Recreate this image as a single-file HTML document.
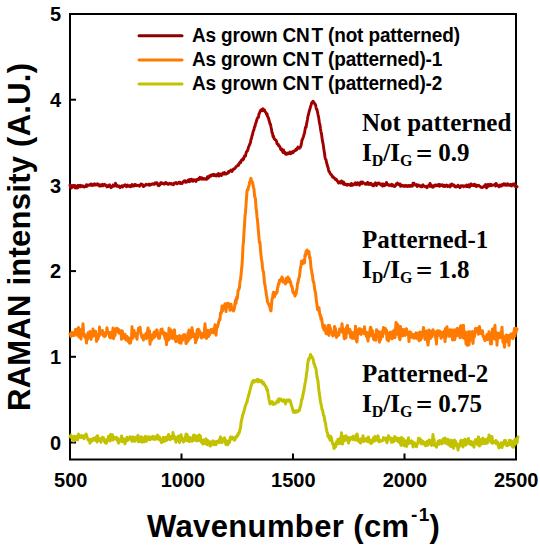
<!DOCTYPE html>
<html><head><meta charset="utf-8"><style>
html,body{margin:0;padding:0;background:#fff;width:540px;height:550px;overflow:hidden}
svg{display:block}
</style></head><body>
<svg width="540" height="550" viewBox="0 0 540 550">
<rect width="540" height="550" fill="#fff"/>
<g stroke="#000" stroke-width="2" fill="none">
<rect x="70" y="14" width="446" height="445.5" stroke-linejoin="miter"/>
<line x1="70" y1="442.5" x2="76" y2="442.5"/><line x1="70" y1="356.8" x2="76" y2="356.8"/><line x1="70" y1="271.1" x2="76" y2="271.1"/><line x1="70" y1="185.4" x2="76" y2="185.4"/><line x1="70" y1="99.7" x2="76" y2="99.7"/><line x1="181.5" y1="459" x2="181.5" y2="453.5"/><line x1="293.0" y1="459" x2="293.0" y2="453.5"/><line x1="404.5" y1="459" x2="404.5" y2="453.5"/>
</g>
<g fill="none" stroke-linejoin="round" stroke-linecap="round">
<path d="M70.0 184.9 L70.5 187.2 L71.0 188.1 L71.5 187.9 L72.0 186.7 L72.5 186.7 L73.0 186.8 L73.5 185.4 L74.0 186.0 L74.5 186.2 L75.0 187.7 L75.5 186.5 L76.0 188.0 L76.5 187.1 L77.0 186.0 L77.5 187.9 L78.0 185.5 L78.5 186.2 L79.0 186.7 L79.5 185.5 L80.0 185.3 L80.5 186.8 L81.0 186.4 L81.5 185.6 L82.0 185.7 L82.5 186.0 L83.0 186.7 L83.5 186.0 L84.0 186.6 L84.5 187.0 L85.0 186.5 L85.5 186.6 L86.0 186.5 L86.5 184.7 L87.0 186.3 L87.5 185.7 L88.0 185.4 L88.5 185.1 L89.0 185.0 L89.5 184.9 L90.0 185.2 L90.5 184.1 L91.0 184.0 L91.5 184.4 L92.0 185.4 L92.5 184.7 L93.0 184.7 L93.5 185.3 L94.0 183.9 L94.5 184.7 L95.0 184.0 L95.5 185.0 L96.0 185.0 L96.5 184.7 L97.0 184.0 L97.5 183.7 L98.0 184.2 L98.5 184.5 L99.0 185.9 L99.5 186.0 L100.0 184.8 L100.5 185.9 L101.0 185.3 L101.5 185.7 L102.0 184.9 L102.5 184.3 L103.0 185.8 L103.5 185.6 L104.0 184.9 L104.5 184.3 L105.0 184.9 L105.5 184.8 L106.0 185.5 L106.5 186.3 L107.0 186.9 L107.5 185.7 L108.0 186.6 L108.5 186.4 L109.0 185.4 L109.5 184.8 L110.0 186.5 L110.5 186.5 L111.0 187.7 L111.5 186.9 L112.0 186.3 L112.5 186.7 L113.0 184.9 L113.5 185.4 L114.0 185.0 L114.5 186.1 L115.0 185.4 L115.5 183.2 L116.0 185.8 L116.5 184.8 L117.0 186.2 L117.5 185.6 L118.0 186.3 L118.5 186.6 L119.0 186.3 L119.5 186.0 L120.0 187.7 L120.5 187.0 L121.0 186.7 L121.5 186.8 L122.0 185.8 L122.5 187.1 L123.0 186.0 L123.5 186.0 L124.0 185.8 L124.5 185.0 L125.0 184.8 L125.5 185.8 L126.0 186.0 L126.5 186.7 L127.0 186.2 L127.5 185.1 L128.0 185.8 L128.5 186.1 L129.0 186.3 L129.5 186.2 L130.0 185.5 L130.5 186.8 L131.0 185.6 L131.5 186.1 L132.0 184.6 L132.5 185.9 L133.0 184.9 L133.5 185.9 L134.0 186.1 L134.5 185.8 L135.0 184.4 L135.5 184.6 L136.0 184.6 L136.5 185.7 L137.0 185.6 L137.5 185.4 L138.0 185.3 L138.5 185.4 L139.0 185.3 L139.5 186.2 L140.0 185.3 L140.5 185.3 L141.0 183.9 L141.5 184.2 L142.0 184.6 L142.5 184.5 L143.0 185.6 L143.5 186.6 L144.0 186.2 L144.5 185.8 L145.0 185.4 L145.5 185.2 L146.0 184.2 L146.5 184.8 L147.0 184.6 L147.5 184.7 L148.0 184.9 L148.5 184.3 L149.0 184.3 L149.5 185.3 L150.0 184.3 L150.5 184.9 L151.0 184.6 L151.5 184.2 L152.0 184.0 L152.5 183.7 L153.0 184.2 L153.5 183.7 L154.0 183.7 L154.5 184.2 L155.0 183.0 L155.5 183.5 L156.0 182.8 L156.5 183.4 L157.0 182.7 L157.5 183.6 L158.0 185.5 L158.5 185.0 L159.0 185.6 L159.5 184.9 L160.0 184.9 L160.5 183.1 L161.0 182.6 L161.5 183.4 L162.0 183.6 L162.5 183.1 L163.0 183.5 L163.5 183.7 L164.0 184.1 L164.5 183.3 L165.0 182.9 L165.5 183.6 L166.0 182.5 L166.5 183.2 L167.0 183.7 L167.5 183.5 L168.0 184.4 L168.5 183.7 L169.0 183.7 L169.5 183.2 L170.0 183.3 L170.5 184.1 L171.0 184.1 L171.5 183.6 L172.0 184.2 L172.5 184.1 L173.0 184.1 L173.5 184.6 L174.0 183.1 L174.5 183.2 L175.0 182.9 L175.5 182.8 L176.0 182.5 L176.5 183.8 L177.0 183.8 L177.5 183.4 L178.0 183.0 L178.5 182.9 L179.0 182.2 L179.5 183.2 L180.0 182.3 L180.5 183.5 L181.0 182.8 L181.5 183.2 L182.0 183.6 L182.5 182.6 L183.0 182.0 L183.5 182.0 L184.0 180.9 L184.5 180.8 L185.0 180.7 L185.5 182.4 L186.0 182.3 L186.5 182.2 L187.0 181.2 L187.5 181.8 L188.0 180.2 L188.5 181.0 L189.0 179.8 L189.5 181.7 L190.0 179.5 L190.5 181.1 L191.0 180.8 L191.5 179.2 L192.0 180.0 L192.5 181.2 L193.0 181.3 L193.5 179.8 L194.0 180.6 L194.5 180.0 L195.0 179.8 L195.5 180.0 L196.0 181.4 L196.5 180.1 L197.0 179.6 L197.5 179.3 L198.0 179.8 L198.5 179.5 L199.0 178.2 L199.5 179.2 L200.0 177.3 L200.5 177.9 L201.0 178.4 L201.5 179.1 L202.0 177.8 L202.5 178.4 L203.0 179.1 L203.5 178.8 L204.0 179.2 L204.5 179.1 L205.0 178.6 L205.5 179.0 L206.0 179.3 L206.5 178.4 L207.0 179.1 L207.5 176.6 L208.0 176.9 L208.5 177.9 L209.0 176.8 L209.5 175.8 L210.0 176.1 L210.5 176.3 L211.0 175.2 L211.5 175.6 L212.0 174.7 L212.5 174.6 L213.0 174.6 L213.5 175.5 L214.0 174.3 L214.5 175.0 L215.0 175.8 L215.5 174.9 L216.0 175.0 L216.5 175.9 L217.0 175.2 L217.5 174.4 L218.0 174.0 L218.5 173.5 L219.0 176.1 L219.5 174.1 L220.0 174.7 L220.5 174.0 L221.0 174.6 L221.5 175.5 L222.0 174.3 L222.5 174.1 L223.0 172.9 L223.5 174.0 L224.0 172.7 L224.5 172.4 L225.0 174.1 L225.5 173.4 L226.0 174.0 L226.5 173.6 L227.0 173.4 L227.5 173.4 L228.0 172.7 L228.5 171.6 L229.0 172.3 L229.5 171.2 L230.0 171.1 L230.5 170.8 L231.0 170.0 L231.5 170.3 L232.0 171.6 L232.5 170.0 L233.0 170.0 L233.5 169.0 L234.0 169.3 L234.5 168.8 L235.0 168.2 L235.5 167.7 L236.0 166.7 L236.5 166.3 L237.0 166.2 L237.5 165.7 L238.0 164.7 L238.5 165.4 L239.0 163.9 L239.5 163.2 L240.0 162.0 L240.5 162.7 L241.0 161.1 L241.5 160.1 L242.0 159.9 L242.5 160.2 L243.0 158.5 L243.5 159.2 L244.0 157.6 L244.5 156.0 L245.0 155.9 L245.5 156.0 L246.0 153.2 L246.5 151.7 L247.0 151.4 L247.5 150.7 L248.0 149.3 L248.5 147.1 L249.0 146.1 L249.5 144.7 L250.0 143.8 L250.5 142.5 L251.0 139.3 L251.5 138.5 L252.0 135.7 L252.5 134.6 L253.0 132.1 L253.5 130.5 L254.0 129.6 L254.5 127.0 L255.0 126.4 L255.5 124.0 L256.0 122.8 L256.5 121.0 L257.0 119.2 L257.5 118.1 L258.0 117.3 L258.5 117.3 L259.0 113.6 L259.5 113.2 L260.0 111.6 L260.5 110.4 L261.0 110.6 L261.5 109.6 L262.0 110.0 L262.5 110.7 L263.0 108.8 L263.5 110.2 L264.0 110.4 L264.5 110.1 L265.0 111.5 L265.5 112.2 L266.0 112.7 L266.5 114.3 L267.0 113.8 L267.5 116.2 L268.0 117.1 L268.5 118.2 L269.0 120.3 L269.5 121.7 L270.0 123.9 L270.5 124.4 L271.0 127.1 L271.5 129.3 L272.0 132.7 L272.5 133.3 L273.0 136.6 L273.5 136.1 L274.0 138.4 L274.5 138.9 L275.0 139.8 L275.5 140.1 L276.0 140.2 L276.5 141.3 L277.0 143.8 L277.5 143.9 L278.0 143.9 L278.5 145.7 L279.0 145.4 L279.5 146.4 L280.0 147.0 L280.5 148.9 L281.0 149.8 L281.5 148.8 L282.0 150.3 L282.5 151.3 L283.0 152.5 L283.5 150.0 L284.0 151.7 L284.5 152.9 L285.0 152.4 L285.5 154.0 L286.0 154.4 L286.5 154.4 L287.0 153.2 L287.5 153.7 L288.0 153.0 L288.5 153.6 L289.0 153.2 L289.5 152.8 L290.0 151.9 L290.5 153.8 L291.0 153.5 L291.5 153.0 L292.0 151.8 L292.5 151.7 L293.0 152.7 L293.5 152.0 L294.0 150.9 L294.5 151.1 L295.0 150.8 L295.5 150.2 L296.0 149.2 L296.5 150.1 L297.0 149.2 L297.5 148.3 L298.0 147.0 L298.5 147.4 L299.0 147.6 L299.5 148.1 L300.0 147.2 L300.5 147.1 L301.0 145.4 L301.5 143.1 L302.0 140.0 L302.5 139.4 L303.0 137.7 L303.5 136.4 L304.0 134.6 L304.5 133.0 L305.0 129.9 L305.5 127.3 L306.0 127.6 L306.5 124.3 L307.0 121.9 L307.5 119.3 L308.0 115.9 L308.5 114.6 L309.0 112.0 L309.5 110.6 L310.0 108.6 L310.5 106.8 L311.0 105.5 L311.5 103.4 L312.0 102.3 L312.5 102.0 L313.0 101.2 L313.5 101.9 L314.0 102.3 L314.5 103.6 L315.0 104.2 L315.5 104.5 L316.0 107.2 L316.5 109.5 L317.0 109.4 L317.5 112.0 L318.0 114.6 L318.5 116.6 L319.0 119.9 L319.5 123.0 L320.0 125.0 L320.5 128.8 L321.0 131.8 L321.5 133.9 L322.0 137.8 L322.5 141.2 L323.0 143.3 L323.5 146.8 L324.0 150.2 L324.5 153.3 L325.0 157.3 L325.5 159.0 L326.0 159.8 L326.5 162.4 L327.0 164.2 L327.5 166.2 L328.0 167.3 L328.5 169.6 L329.0 171.6 L329.5 171.8 L330.0 173.1 L330.5 174.1 L331.0 174.1 L331.5 175.3 L332.0 175.5 L332.5 176.9 L333.0 176.7 L333.5 177.1 L334.0 178.0 L334.5 178.3 L335.0 178.9 L335.5 179.5 L336.0 179.0 L336.5 179.7 L337.0 180.7 L337.5 181.3 L338.0 181.5 L338.5 183.1 L339.0 182.3 L339.5 181.9 L340.0 182.7 L340.5 183.0 L341.0 182.3 L341.5 180.9 L342.0 181.8 L342.5 182.2 L343.0 183.7 L343.5 181.9 L344.0 184.4 L344.5 183.7 L345.0 184.6 L345.5 184.0 L346.0 184.4 L346.5 185.0 L347.0 184.5 L347.5 185.1 L348.0 184.3 L348.5 184.4 L349.0 184.7 L349.5 184.6 L350.0 184.8 L350.5 185.5 L351.0 183.7 L351.5 183.4 L352.0 184.3 L352.5 185.3 L353.0 185.0 L353.5 184.9 L354.0 184.6 L354.5 183.5 L355.0 184.1 L355.5 182.8 L356.0 184.4 L356.5 184.8 L357.0 183.3 L357.5 182.7 L358.0 182.8 L358.5 183.8 L359.0 184.5 L359.5 185.1 L360.0 184.2 L360.5 182.4 L361.0 182.0 L361.5 183.3 L362.0 183.7 L362.5 182.0 L363.0 182.6 L363.5 182.8 L364.0 183.2 L364.5 183.3 L365.0 183.9 L365.5 184.2 L366.0 183.5 L366.5 183.6 L367.0 184.1 L367.5 182.5 L368.0 182.6 L368.5 183.7 L369.0 184.6 L369.5 183.6 L370.0 184.1 L370.5 183.3 L371.0 184.0 L371.5 183.7 L372.0 185.1 L372.5 185.3 L373.0 185.8 L373.5 185.9 L374.0 185.2 L374.5 183.8 L375.0 184.2 L375.5 182.8 L376.0 184.6 L376.5 185.4 L377.0 183.7 L377.5 183.5 L378.0 183.1 L378.5 183.7 L379.0 183.0 L379.5 184.0 L380.0 183.7 L380.5 184.2 L381.0 185.1 L381.5 184.9 L382.0 183.9 L382.5 186.1 L383.0 184.9 L383.5 183.9 L384.0 185.8 L384.5 185.2 L385.0 185.4 L385.5 185.3 L386.0 183.9 L386.5 182.4 L387.0 183.9 L387.5 184.3 L388.0 185.0 L388.5 184.5 L389.0 185.3 L389.5 185.7 L390.0 185.3 L390.5 185.0 L391.0 185.0 L391.5 184.3 L392.0 185.9 L392.5 184.6 L393.0 185.4 L393.5 185.9 L394.0 186.3 L394.5 186.5 L395.0 186.3 L395.5 185.8 L396.0 184.4 L396.5 183.7 L397.0 184.4 L397.5 183.1 L398.0 184.0 L398.5 184.5 L399.0 184.7 L399.5 183.9 L400.0 183.9 L400.5 186.3 L401.0 185.6 L401.5 184.9 L402.0 185.2 L402.5 185.6 L403.0 186.0 L403.5 185.5 L404.0 186.4 L404.5 185.7 L405.0 185.8 L405.5 186.2 L406.0 185.4 L406.5 186.3 L407.0 186.3 L407.5 185.9 L408.0 186.5 L408.5 185.6 L409.0 186.1 L409.5 185.6 L410.0 186.1 L410.5 185.5 L411.0 186.2 L411.5 185.5 L412.0 185.3 L412.5 186.1 L413.0 183.3 L413.5 184.3 L414.0 183.3 L414.5 184.8 L415.0 184.9 L415.5 185.0 L416.0 184.7 L416.5 184.5 L417.0 186.5 L417.5 185.9 L418.0 185.7 L418.5 185.0 L419.0 185.8 L419.5 185.5 L420.0 185.7 L420.5 186.5 L421.0 186.8 L421.5 185.9 L422.0 186.8 L422.5 185.2 L423.0 184.8 L423.5 185.9 L424.0 186.1 L424.5 186.3 L425.0 186.3 L425.5 186.9 L426.0 186.8 L426.5 186.2 L427.0 187.7 L427.5 186.1 L428.0 186.1 L428.5 186.0 L429.0 185.0 L429.5 186.3 L430.0 183.5 L430.5 184.5 L431.0 185.6 L431.5 186.8 L432.0 186.3 L432.5 185.7 L433.0 187.3 L433.5 185.8 L434.0 186.0 L434.5 186.3 L435.0 185.0 L435.5 185.0 L436.0 185.4 L436.5 185.2 L437.0 185.7 L437.5 185.0 L438.0 185.5 L438.5 184.7 L439.0 184.3 L439.5 186.3 L440.0 185.5 L440.5 185.8 L441.0 184.7 L441.5 185.4 L442.0 185.4 L442.5 184.9 L443.0 186.3 L443.5 185.7 L444.0 186.3 L444.5 185.2 L445.0 186.5 L445.5 186.1 L446.0 185.5 L446.5 184.9 L447.0 185.2 L447.5 186.6 L448.0 185.9 L448.5 186.3 L449.0 186.3 L449.5 185.4 L450.0 186.9 L450.5 184.6 L451.0 185.8 L451.5 185.3 L452.0 184.1 L452.5 185.3 L453.0 185.5 L453.5 185.4 L454.0 185.1 L454.5 186.2 L455.0 186.8 L455.5 186.2 L456.0 187.0 L456.5 186.3 L457.0 186.1 L457.5 186.4 L458.0 185.2 L458.5 185.7 L459.0 186.8 L459.5 186.9 L460.0 187.6 L460.5 186.9 L461.0 185.7 L461.5 185.9 L462.0 185.8 L462.5 185.8 L463.0 185.9 L463.5 186.7 L464.0 185.8 L464.5 185.9 L465.0 186.2 L465.5 185.9 L466.0 186.2 L466.5 185.1 L467.0 186.7 L467.5 186.1 L468.0 186.1 L468.5 186.1 L469.0 184.7 L469.5 187.1 L470.0 185.5 L470.5 185.3 L471.0 183.9 L471.5 185.5 L472.0 185.6 L472.5 184.8 L473.0 184.9 L473.5 185.4 L474.0 184.3 L474.5 184.2 L475.0 185.7 L475.5 185.1 L476.0 184.9 L476.5 186.7 L477.0 185.7 L477.5 185.4 L478.0 185.5 L478.5 185.2 L479.0 185.6 L479.5 186.2 L480.0 186.3 L480.5 186.7 L481.0 187.3 L481.5 187.4 L482.0 187.5 L482.5 187.5 L483.0 187.0 L483.5 186.9 L484.0 186.1 L484.5 185.8 L485.0 186.3 L485.5 184.6 L486.0 186.1 L486.5 187.9 L487.0 185.0 L487.5 186.7 L488.0 184.5 L488.5 185.5 L489.0 186.0 L489.5 185.9 L490.0 184.3 L490.5 184.2 L491.0 184.3 L491.5 185.7 L492.0 185.1 L492.5 185.1 L493.0 185.0 L493.5 185.1 L494.0 185.1 L494.5 185.1 L495.0 184.4 L495.5 186.1 L496.0 183.4 L496.5 185.7 L497.0 184.6 L497.5 185.4 L498.0 185.7 L498.5 186.1 L499.0 186.6 L499.5 186.0 L500.0 185.0 L500.5 186.1 L501.0 185.2 L501.5 186.1 L502.0 185.0 L502.5 184.3 L503.0 184.7 L503.5 184.9 L504.0 183.8 L504.5 184.1 L505.0 185.1 L505.5 184.1 L506.0 184.7 L506.5 185.4 L507.0 184.6 L507.5 183.7 L508.0 184.1 L508.5 185.2 L509.0 185.3 L509.5 185.3 L510.0 185.2 L510.5 184.4 L511.0 185.7 L511.5 185.9 L512.0 184.6 L512.5 185.3 L513.0 184.1 L513.5 184.4 L514.0 184.5 L514.5 183.9 L515.0 186.3 L515.5 185.5 L516.0 186.5 L516.5 186.2 L517.0 186.8" stroke="#a00000" stroke-width="2.9"/>
<path d="M70.0 334.1 L70.5 333.9 L71.0 336.5 L71.5 332.5 L72.0 332.9 L72.5 332.5 L73.0 335.5 L73.5 334.4 L74.0 334.9 L74.5 335.3 L75.0 332.5 L75.5 329.6 L76.0 329.6 L76.5 329.4 L77.0 332.2 L77.5 335.2 L78.0 331.7 L78.5 327.4 L79.0 337.1 L79.5 335.5 L80.0 333.3 L80.5 334.2 L81.0 339.1 L81.5 329.2 L82.0 329.3 L82.5 332.3 L83.0 323.8 L83.5 331.7 L84.0 336.2 L84.5 336.3 L85.0 337.2 L85.5 335.0 L86.0 335.3 L86.5 343.1 L87.0 336.1 L87.5 339.5 L88.0 332.8 L88.5 336.9 L89.0 337.1 L89.5 337.2 L90.0 331.4 L90.5 335.2 L91.0 339.4 L91.5 336.3 L92.0 332.1 L92.5 336.6 L93.0 329.0 L93.5 335.8 L94.0 335.3 L94.5 333.3 L95.0 332.8 L95.5 331.2 L96.0 335.4 L96.5 341.4 L97.0 339.5 L97.5 338.0 L98.0 339.2 L98.5 334.2 L99.0 336.5 L99.5 327.1 L100.0 334.0 L100.5 333.4 L101.0 334.0 L101.5 332.5 L102.0 333.4 L102.5 330.6 L103.0 335.3 L103.5 332.6 L104.0 336.3 L104.5 334.3 L105.0 336.5 L105.5 335.3 L106.0 332.3 L106.5 333.2 L107.0 327.8 L107.5 331.8 L108.0 333.0 L108.5 332.3 L109.0 333.8 L109.5 336.9 L110.0 337.4 L110.5 337.9 L111.0 332.3 L111.5 333.3 L112.0 337.2 L112.5 336.6 L113.0 328.1 L113.5 338.7 L114.0 336.3 L114.5 329.2 L115.0 335.6 L115.5 330.7 L116.0 331.0 L116.5 328.3 L117.0 328.5 L117.5 330.1 L118.0 331.7 L118.5 329.3 L119.0 333.2 L119.5 330.8 L120.0 330.7 L120.5 330.7 L121.0 332.4 L121.5 339.3 L122.0 330.8 L122.5 331.6 L123.0 335.1 L123.5 334.9 L124.0 334.3 L124.5 338.5 L125.0 334.2 L125.5 337.4 L126.0 340.1 L126.5 339.0 L127.0 336.5 L127.5 338.5 L128.0 340.0 L128.5 341.8 L129.0 337.9 L129.5 343.2 L130.0 340.8 L130.5 343.1 L131.0 339.3 L131.5 338.9 L132.0 326.7 L132.5 332.7 L133.0 338.0 L133.5 333.3 L134.0 330.5 L134.5 334.5 L135.0 333.6 L135.5 335.7 L136.0 333.8 L136.5 336.8 L137.0 339.2 L137.5 333.6 L138.0 332.3 L138.5 328.2 L139.0 330.6 L139.5 329.1 L140.0 327.3 L140.5 331.5 L141.0 333.6 L141.5 336.1 L142.0 337.6 L142.5 335.8 L143.0 336.9 L143.5 339.9 L144.0 335.6 L144.5 335.9 L145.0 334.9 L145.5 335.0 L146.0 333.6 L146.5 338.6 L147.0 335.2 L147.5 331.8 L148.0 328.0 L148.5 332.4 L149.0 337.4 L149.5 330.8 L150.0 344.3 L150.5 337.2 L151.0 337.5 L151.5 340.2 L152.0 334.9 L152.5 338.2 L153.0 336.9 L153.5 338.2 L154.0 332.3 L154.5 336.0 L155.0 336.6 L155.5 333.6 L156.0 330.8 L156.5 331.2 L157.0 329.8 L157.5 332.4 L158.0 334.6 L158.5 338.2 L159.0 337.4 L159.5 338.3 L160.0 333.9 L160.5 333.4 L161.0 329.5 L161.5 331.2 L162.0 329.0 L162.5 331.4 L163.0 333.9 L163.5 332.3 L164.0 332.4 L164.5 335.6 L165.0 338.3 L165.5 339.4 L166.0 333.6 L166.5 344.6 L167.0 339.0 L167.5 335.1 L168.0 337.3 L168.5 340.1 L169.0 328.2 L169.5 338.8 L170.0 334.5 L170.5 335.6 L171.0 330.0 L171.5 333.2 L172.0 332.2 L172.5 338.5 L173.0 332.3 L173.5 335.0 L174.0 331.3 L174.5 329.8 L175.0 338.7 L175.5 340.2 L176.0 341.7 L176.5 336.6 L177.0 339.3 L177.5 339.7 L178.0 337.1 L178.5 336.4 L179.0 342.4 L179.5 335.4 L180.0 340.4 L180.5 336.8 L181.0 343.3 L181.5 338.5 L182.0 336.6 L182.5 340.2 L183.0 336.4 L183.5 334.7 L184.0 334.7 L184.5 334.6 L185.0 338.9 L185.5 339.0 L186.0 343.6 L186.5 336.3 L187.0 342.3 L187.5 339.1 L188.0 332.7 L188.5 340.5 L189.0 329.9 L189.5 337.8 L190.0 331.8 L190.5 338.2 L191.0 336.3 L191.5 334.7 L192.0 327.8 L192.5 331.1 L193.0 336.7 L193.5 335.5 L194.0 333.9 L194.5 335.5 L195.0 335.8 L195.5 342.7 L196.0 338.8 L196.5 340.4 L197.0 330.9 L197.5 329.6 L198.0 337.4 L198.5 329.3 L199.0 330.0 L199.5 331.5 L200.0 332.5 L200.5 332.8 L201.0 333.8 L201.5 338.1 L202.0 335.3 L202.5 336.7 L203.0 333.9 L203.5 333.1 L204.0 336.9 L204.5 330.4 L205.0 323.8 L205.5 332.0 L206.0 333.4 L206.5 338.4 L207.0 333.3 L207.5 330.2 L208.0 332.4 L208.5 336.5 L209.0 330.7 L209.5 334.8 L210.0 333.0 L210.5 333.2 L211.0 329.6 L211.5 332.0 L212.0 330.3 L212.5 331.7 L213.0 329.6 L213.5 332.9 L214.0 328.4 L214.5 329.1 L215.0 324.8 L215.5 327.8 L216.0 335.2 L216.5 328.7 L217.0 325.6 L217.5 327.3 L218.0 324.9 L218.5 322.6 L219.0 321.0 L219.5 319.0 L220.0 319.7 L220.5 313.1 L221.0 313.7 L221.5 312.2 L222.0 306.1 L222.5 310.9 L223.0 306.8 L223.5 306.4 L224.0 305.6 L224.5 308.2 L225.0 303.7 L225.5 308.5 L226.0 311.5 L226.5 306.4 L227.0 306.8 L227.5 303.3 L228.0 306.4 L228.5 303.6 L229.0 304.5 L229.5 306.1 L230.0 310.3 L230.5 306.4 L231.0 304.3 L231.5 308.3 L232.0 309.4 L232.5 309.9 L233.0 309.4 L233.5 311.0 L234.0 309.6 L234.5 307.6 L235.0 303.5 L235.5 300.3 L236.0 303.4 L236.5 297.6 L237.0 299.1 L237.5 297.1 L238.0 291.2 L238.5 289.7 L239.0 289.1 L239.5 287.1 L240.0 281.4 L240.5 279.7 L241.0 275.2 L241.5 270.0 L242.0 265.5 L242.5 256.9 L243.0 246.2 L243.5 241.4 L244.0 232.2 L244.5 225.1 L245.0 216.4 L245.5 212.4 L246.0 204.8 L246.5 197.8 L247.0 191.4 L247.5 189.5 L248.0 189.9 L248.5 186.7 L249.0 185.9 L249.5 182.5 L250.0 182.3 L250.5 179.7 L251.0 178.4 L251.5 182.0 L252.0 181.3 L252.5 182.3 L253.0 184.9 L253.5 187.4 L254.0 189.0 L254.5 195.2 L255.0 197.3 L255.5 199.0 L256.0 208.0 L256.5 210.7 L257.0 216.7 L257.5 220.4 L258.0 226.4 L258.5 231.8 L259.0 238.0 L259.5 242.9 L260.0 242.5 L260.5 250.2 L261.0 255.1 L261.5 259.3 L262.0 261.8 L262.5 267.2 L263.0 271.1 L263.5 271.8 L264.0 277.0 L264.5 283.3 L265.0 284.9 L265.5 288.5 L266.0 291.5 L266.5 295.2 L267.0 298.3 L267.5 301.7 L268.0 302.8 L268.5 304.1 L269.0 304.5 L269.5 306.5 L270.0 307.3 L270.5 310.3 L271.0 310.9 L271.5 305.2 L272.0 299.1 L272.5 298.5 L273.0 294.1 L273.5 292.3 L274.0 296.0 L274.5 296.7 L275.0 292.6 L275.5 293.3 L276.0 294.0 L276.5 292.9 L277.0 292.3 L277.5 288.1 L278.0 286.7 L278.5 283.7 L279.0 283.7 L279.5 280.3 L280.0 280.8 L280.5 281.0 L281.0 278.9 L281.5 278.7 L282.0 277.0 L282.5 278.1 L283.0 282.1 L283.5 282.1 L284.0 281.5 L284.5 281.7 L285.0 282.6 L285.5 283.9 L286.0 278.6 L286.5 281.5 L287.0 278.5 L287.5 281.9 L288.0 276.9 L288.5 280.4 L289.0 278.7 L289.5 279.4 L290.0 282.6 L290.5 281.6 L291.0 284.7 L291.5 286.4 L292.0 286.3 L292.5 289.6 L293.0 292.4 L293.5 292.7 L294.0 293.6 L294.5 292.8 L295.0 296.1 L295.5 292.2 L296.0 294.3 L296.5 290.2 L297.0 289.0 L297.5 283.3 L298.0 283.3 L298.5 279.3 L299.0 277.9 L299.5 276.2 L300.0 271.4 L300.5 267.8 L301.0 266.0 L301.5 261.3 L302.0 262.6 L302.5 261.1 L303.0 263.5 L303.5 260.2 L304.0 263.1 L304.5 262.6 L305.0 254.9 L305.5 255.8 L306.0 251.4 L306.5 253.9 L307.0 250.1 L307.5 252.5 L308.0 252.6 L308.5 251.4 L309.0 251.6 L309.5 257.8 L310.0 257.4 L310.5 261.8 L311.0 267.9 L311.5 269.9 L312.0 273.6 L312.5 275.7 L313.0 280.7 L313.5 281.9 L314.0 283.6 L314.5 288.1 L315.0 290.9 L315.5 292.3 L316.0 297.5 L316.5 302.1 L317.0 304.8 L317.5 309.3 L318.0 310.1 L318.5 310.1 L319.0 307.6 L319.5 312.6 L320.0 315.6 L320.5 315.2 L321.0 319.6 L321.5 317.6 L322.0 321.2 L322.5 324.3 L323.0 327.9 L323.5 325.6 L324.0 330.1 L324.5 327.1 L325.0 325.6 L325.5 329.7 L326.0 333.5 L326.5 329.9 L327.0 333.9 L327.5 329.8 L328.0 334.2 L328.5 325.2 L329.0 335.4 L329.5 325.6 L330.0 330.4 L330.5 328.3 L331.0 332.6 L331.5 332.0 L332.0 332.5 L332.5 335.0 L333.0 335.9 L333.5 331.5 L334.0 334.6 L334.5 326.4 L335.0 328.1 L335.5 328.5 L336.0 334.9 L336.5 337.4 L337.0 334.8 L337.5 334.2 L338.0 332.6 L338.5 335.5 L339.0 334.3 L339.5 329.1 L340.0 329.7 L340.5 329.3 L341.0 330.5 L341.5 331.7 L342.0 323.7 L342.5 328.6 L343.0 332.6 L343.5 329.1 L344.0 337.0 L344.5 338.9 L345.0 333.5 L345.5 332.8 L346.0 337.8 L346.5 327.3 L347.0 327.2 L347.5 325.4 L348.0 330.2 L348.5 332.0 L349.0 333.2 L349.5 333.6 L350.0 329.5 L350.5 337.2 L351.0 333.3 L351.5 332.1 L352.0 338.3 L352.5 332.8 L353.0 332.9 L353.5 334.6 L354.0 338.4 L354.5 332.7 L355.0 335.4 L355.5 326.2 L356.0 330.6 L356.5 341.1 L357.0 342.0 L357.5 335.2 L358.0 332.7 L358.5 329.8 L359.0 328.9 L359.5 331.6 L360.0 328.7 L360.5 334.2 L361.0 334.4 L361.5 330.6 L362.0 329.9 L362.5 329.8 L363.0 331.4 L363.5 331.7 L364.0 333.6 L364.5 326.8 L365.0 332.0 L365.5 333.5 L366.0 334.7 L366.5 336.6 L367.0 332.6 L367.5 337.8 L368.0 341.1 L368.5 334.2 L369.0 337.1 L369.5 333.6 L370.0 330.2 L370.5 327.2 L371.0 327.9 L371.5 335.5 L372.0 330.5 L372.5 330.6 L373.0 334.4 L373.5 339.2 L374.0 334.9 L374.5 340.0 L375.0 339.4 L375.5 336.5 L376.0 340.2 L376.5 329.7 L377.0 331.7 L377.5 333.7 L378.0 336.3 L378.5 331.5 L379.0 335.3 L379.5 342.2 L380.0 336.8 L380.5 339.9 L381.0 334.4 L381.5 331.7 L382.0 335.2 L382.5 336.8 L383.0 331.0 L383.5 327.5 L384.0 330.2 L384.5 330.7 L385.0 330.8 L385.5 328.4 L386.0 334.1 L386.5 330.2 L387.0 339.7 L387.5 333.1 L388.0 333.9 L388.5 340.9 L389.0 339.0 L389.5 334.3 L390.0 332.3 L390.5 334.4 L391.0 336.0 L391.5 336.3 L392.0 338.8 L392.5 331.8 L393.0 334.7 L393.5 335.2 L394.0 330.3 L394.5 337.7 L395.0 337.6 L395.5 330.2 L396.0 322.5 L396.5 326.8 L397.0 334.2 L397.5 324.3 L398.0 325.4 L398.5 331.7 L399.0 336.1 L399.5 338.3 L400.0 339.8 L400.5 326.6 L401.0 332.5 L401.5 330.3 L402.0 329.4 L402.5 336.0 L403.0 334.7 L403.5 329.8 L404.0 332.9 L404.5 332.1 L405.0 335.4 L405.5 329.2 L406.0 334.3 L406.5 328.7 L407.0 332.6 L407.5 331.5 L408.0 333.4 L408.5 334.1 L409.0 341.6 L409.5 332.9 L410.0 331.8 L410.5 332.3 L411.0 335.3 L411.5 337.3 L412.0 335.4 L412.5 334.2 L413.0 336.3 L413.5 334.5 L414.0 338.3 L414.5 335.6 L415.0 335.8 L415.5 334.0 L416.0 332.8 L416.5 338.4 L417.0 333.7 L417.5 337.8 L418.0 338.5 L418.5 332.9 L419.0 340.7 L419.5 336.3 L420.0 332.1 L420.5 340.1 L421.0 338.5 L421.5 338.0 L422.0 333.4 L422.5 331.8 L423.0 332.7 L423.5 327.4 L424.0 333.8 L424.5 334.8 L425.0 339.4 L425.5 334.7 L426.0 337.3 L426.5 330.9 L427.0 334.8 L427.5 341.5 L428.0 345.0 L428.5 340.9 L429.0 329.9 L429.5 330.7 L430.0 331.4 L430.5 338.5 L431.0 331.4 L431.5 335.2 L432.0 336.7 L432.5 334.3 L433.0 329.7 L433.5 331.3 L434.0 333.0 L434.5 332.1 L435.0 333.0 L435.5 336.4 L436.0 339.4 L436.5 344.0 L437.0 331.0 L437.5 336.3 L438.0 335.4 L438.5 330.7 L439.0 333.8 L439.5 332.5 L440.0 331.4 L440.5 333.2 L441.0 338.3 L441.5 332.5 L442.0 335.1 L442.5 336.9 L443.0 333.9 L443.5 332.9 L444.0 331.4 L444.5 334.0 L445.0 341.6 L445.5 328.5 L446.0 337.4 L446.5 328.6 L447.0 326.7 L447.5 333.7 L448.0 333.2 L448.5 335.0 L449.0 333.8 L449.5 336.4 L450.0 329.8 L450.5 333.3 L451.0 335.4 L451.5 332.3 L452.0 330.1 L452.5 340.0 L453.0 332.5 L453.5 329.9 L454.0 336.4 L454.5 339.8 L455.0 337.9 L455.5 329.7 L456.0 333.2 L456.5 334.3 L457.0 335.6 L457.5 328.3 L458.0 329.6 L458.5 335.2 L459.0 334.3 L459.5 335.5 L460.0 337.8 L460.5 326.3 L461.0 325.7 L461.5 328.1 L462.0 336.6 L462.5 331.5 L463.0 337.8 L463.5 325.2 L464.0 336.2 L464.5 338.0 L465.0 339.0 L465.5 331.9 L466.0 344.0 L466.5 334.4 L467.0 345.0 L467.5 345.4 L468.0 337.8 L468.5 331.7 L469.0 344.8 L469.5 337.8 L470.0 331.7 L470.5 339.7 L471.0 334.7 L471.5 340.3 L472.0 335.9 L472.5 331.4 L473.0 343.5 L473.5 336.6 L474.0 337.4 L474.5 336.3 L475.0 333.1 L475.5 328.5 L476.0 330.4 L476.5 331.8 L477.0 330.7 L477.5 328.2 L478.0 329.5 L478.5 334.3 L479.0 331.9 L479.5 326.4 L480.0 330.2 L480.5 331.8 L481.0 333.5 L481.5 331.1 L482.0 332.8 L482.5 330.7 L483.0 336.1 L483.5 336.5 L484.0 338.1 L484.5 339.5 L485.0 340.5 L485.5 336.6 L486.0 336.5 L486.5 339.3 L487.0 334.6 L487.5 339.5 L488.0 334.2 L488.5 335.2 L489.0 331.8 L489.5 337.8 L490.0 337.7 L490.5 344.0 L491.0 339.5 L491.5 343.8 L492.0 333.9 L492.5 328.9 L493.0 338.2 L493.5 335.0 L494.0 338.6 L494.5 329.5 L495.0 325.2 L495.5 339.4 L496.0 334.9 L496.5 332.7 L497.0 345.2 L497.5 336.8 L498.0 333.2 L498.5 338.1 L499.0 334.4 L499.5 333.0 L500.0 337.8 L500.5 335.0 L501.0 332.8 L501.5 332.7 L502.0 327.2 L502.5 336.6 L503.0 342.3 L503.5 336.6 L504.0 341.6 L504.5 347.2 L505.0 340.9 L505.5 337.8 L506.0 335.3 L506.5 335.0 L507.0 337.7 L507.5 335.4 L508.0 342.4 L508.5 335.5 L509.0 345.5 L509.5 335.9 L510.0 335.3 L510.5 335.5 L511.0 333.9 L511.5 334.8 L512.0 338.1 L512.5 335.7 L513.0 338.5 L513.5 332.8 L514.0 332.1 L514.5 328.5 L515.0 336.1 L515.5 328.3 L516.0 332.2 L516.5 329.9 L517.0 329.1" stroke="#ff7a00" stroke-width="3"/>
<path d="M70.0 436.8 L70.5 436.0 L71.0 435.2 L71.5 436.4 L72.0 438.3 L72.5 437.5 L73.0 440.6 L73.5 440.9 L74.0 439.1 L74.5 436.3 L75.0 437.9 L75.5 439.5 L76.0 437.1 L76.5 436.6 L77.0 437.1 L77.5 440.0 L78.0 435.8 L78.5 434.1 L79.0 436.8 L79.5 437.0 L80.0 437.5 L80.5 436.4 L81.0 436.5 L81.5 435.5 L82.0 437.5 L82.5 436.4 L83.0 437.4 L83.5 435.9 L84.0 438.8 L84.5 436.9 L85.0 435.6 L85.5 435.9 L86.0 434.0 L86.5 434.9 L87.0 437.1 L87.5 438.1 L88.0 439.7 L88.5 440.2 L89.0 439.4 L89.5 440.3 L90.0 443.3 L90.5 440.9 L91.0 439.3 L91.5 441.2 L92.0 440.4 L92.5 440.5 L93.0 440.3 L93.5 438.3 L94.0 440.0 L94.5 438.9 L95.0 439.9 L95.5 437.7 L96.0 437.1 L96.5 438.3 L97.0 442.0 L97.5 435.8 L98.0 439.7 L98.5 438.3 L99.0 440.6 L99.5 438.6 L100.0 440.4 L100.5 439.8 L101.0 442.2 L101.5 438.4 L102.0 438.9 L102.5 437.3 L103.0 439.0 L103.5 437.8 L104.0 439.3 L104.5 441.2 L105.0 442.6 L105.5 440.3 L106.0 440.5 L106.5 443.3 L107.0 439.6 L107.5 440.3 L108.0 438.9 L108.5 436.2 L109.0 438.3 L109.5 438.0 L110.0 441.1 L110.5 434.5 L111.0 437.0 L111.5 439.3 L112.0 437.5 L112.5 434.8 L113.0 440.0 L113.5 439.5 L114.0 437.9 L114.5 437.4 L115.0 437.6 L115.5 439.0 L116.0 438.1 L116.5 437.2 L117.0 439.0 L117.5 440.9 L118.0 438.5 L118.5 443.2 L119.0 441.2 L119.5 441.7 L120.0 440.9 L120.5 440.9 L121.0 440.4 L121.5 435.9 L122.0 438.2 L122.5 441.7 L123.0 438.4 L123.5 441.2 L124.0 439.0 L124.5 440.3 L125.0 443.8 L125.5 441.5 L126.0 439.6 L126.5 439.6 L127.0 437.3 L127.5 440.5 L128.0 438.6 L128.5 439.7 L129.0 439.2 L129.5 437.5 L130.0 436.7 L130.5 437.0 L131.0 439.3 L131.5 439.5 L132.0 441.4 L132.5 437.1 L133.0 439.4 L133.5 437.1 L134.0 438.3 L134.5 441.2 L135.0 441.2 L135.5 438.5 L136.0 437.4 L136.5 439.8 L137.0 436.8 L137.5 436.6 L138.0 435.4 L138.5 441.8 L139.0 440.8 L139.5 438.4 L140.0 441.4 L140.5 438.3 L141.0 436.9 L141.5 439.5 L142.0 442.1 L142.5 437.2 L143.0 441.1 L143.5 441.1 L144.0 441.8 L144.5 440.1 L145.0 441.4 L145.5 436.3 L146.0 439.3 L146.5 441.2 L147.0 440.2 L147.5 439.6 L148.0 436.9 L148.5 439.3 L149.0 437.0 L149.5 439.1 L150.0 439.6 L150.5 437.2 L151.0 438.1 L151.5 437.2 L152.0 438.9 L152.5 437.6 L153.0 436.3 L153.5 437.6 L154.0 439.1 L154.5 439.5 L155.0 438.7 L155.5 436.8 L156.0 437.9 L156.5 436.6 L157.0 439.0 L157.5 435.1 L158.0 439.1 L158.5 438.1 L159.0 437.5 L159.5 436.9 L160.0 440.3 L160.5 438.4 L161.0 440.7 L161.5 442.7 L162.0 439.6 L162.5 439.2 L163.0 439.2 L163.5 437.2 L164.0 441.6 L164.5 438.1 L165.0 440.0 L165.5 439.1 L166.0 437.2 L166.5 440.5 L167.0 438.5 L167.5 436.7 L168.0 436.8 L168.5 434.5 L169.0 436.0 L169.5 439.6 L170.0 439.7 L170.5 436.4 L171.0 439.0 L171.5 438.6 L172.0 437.1 L172.5 438.1 L173.0 432.6 L173.5 437.0 L174.0 435.6 L174.5 439.3 L175.0 437.6 L175.5 440.0 L176.0 442.2 L176.5 437.4 L177.0 438.6 L177.5 438.1 L178.0 438.9 L178.5 436.0 L179.0 440.1 L179.5 442.5 L180.0 439.0 L180.5 440.5 L181.0 434.8 L181.5 437.1 L182.0 440.1 L182.5 439.8 L183.0 440.7 L183.5 441.9 L184.0 439.6 L184.5 438.3 L185.0 437.3 L185.5 438.2 L186.0 434.1 L186.5 440.7 L187.0 434.4 L187.5 436.1 L188.0 439.6 L188.5 441.1 L189.0 440.4 L189.5 441.5 L190.0 437.4 L190.5 437.8 L191.0 440.6 L191.5 438.2 L192.0 441.3 L192.5 441.0 L193.0 439.7 L193.5 435.3 L194.0 438.2 L194.5 435.0 L195.0 440.2 L195.5 437.8 L196.0 440.2 L196.5 440.9 L197.0 436.2 L197.5 440.3 L198.0 439.4 L198.5 440.7 L199.0 435.0 L199.5 435.2 L200.0 436.2 L200.5 436.2 L201.0 441.7 L201.5 440.7 L202.0 442.9 L202.5 443.1 L203.0 444.0 L203.5 440.0 L204.0 443.6 L204.5 443.2 L205.0 439.8 L205.5 440.4 L206.0 438.9 L206.5 444.1 L207.0 444.6 L207.5 440.2 L208.0 441.1 L208.5 442.1 L209.0 442.7 L209.5 442.1 L210.0 446.0 L210.5 441.8 L211.0 445.5 L211.5 443.8 L212.0 443.8 L212.5 442.3 L213.0 440.9 L213.5 443.0 L214.0 444.7 L214.5 442.8 L215.0 441.7 L215.5 444.4 L216.0 444.6 L216.5 441.4 L217.0 441.6 L217.5 442.0 L218.0 441.1 L218.5 442.3 L219.0 442.7 L219.5 440.4 L220.0 438.8 L220.5 436.9 L221.0 441.6 L221.5 441.0 L222.0 442.8 L222.5 439.3 L223.0 440.9 L223.5 438.8 L224.0 438.2 L224.5 437.8 L225.0 440.6 L225.5 442.9 L226.0 444.5 L226.5 442.6 L227.0 440.9 L227.5 444.8 L228.0 444.1 L228.5 443.2 L229.0 441.9 L229.5 442.5 L230.0 438.5 L230.5 437.0 L231.0 439.0 L231.5 438.1 L232.0 438.9 L232.5 437.1 L233.0 439.0 L233.5 438.0 L234.0 439.5 L234.5 440.3 L235.0 439.3 L235.5 437.8 L236.0 436.5 L236.5 437.3 L237.0 436.3 L237.5 434.9 L238.0 435.3 L238.5 432.9 L239.0 433.2 L239.5 432.0 L240.0 429.2 L240.5 428.2 L241.0 422.7 L241.5 420.0 L242.0 418.9 L242.5 415.3 L243.0 414.6 L243.5 413.0 L244.0 410.9 L244.5 409.5 L245.0 407.1 L245.5 405.6 L246.0 404.3 L246.5 402.7 L247.0 402.2 L247.5 399.4 L248.0 397.9 L248.5 395.3 L249.0 394.5 L249.5 392.0 L250.0 390.2 L250.5 388.1 L251.0 385.7 L251.5 385.3 L252.0 382.6 L252.5 382.9 L253.0 380.7 L253.5 382.3 L254.0 380.5 L254.5 381.3 L255.0 381.4 L255.5 381.0 L256.0 380.8 L256.5 379.8 L257.0 381.2 L257.5 379.6 L258.0 381.8 L258.5 379.6 L259.0 380.0 L259.5 380.7 L260.0 380.7 L260.5 381.6 L261.0 380.6 L261.5 380.5 L262.0 381.2 L262.5 383.5 L263.0 383.8 L263.5 382.4 L264.0 384.5 L264.5 384.3 L265.0 385.5 L265.5 386.5 L266.0 386.5 L266.5 388.3 L267.0 390.5 L267.5 389.7 L268.0 393.4 L268.5 396.1 L269.0 399.3 L269.5 401.4 L270.0 403.9 L270.5 403.6 L271.0 403.6 L271.5 401.8 L272.0 402.9 L272.5 401.9 L273.0 403.5 L273.5 404.5 L274.0 403.2 L274.5 403.5 L275.0 403.6 L275.5 403.7 L276.0 402.7 L276.5 402.8 L277.0 401.2 L277.5 401.2 L278.0 399.7 L278.5 402.1 L279.0 398.8 L279.5 400.5 L280.0 400.0 L280.5 400.1 L281.0 399.1 L281.5 400.3 L282.0 400.6 L282.5 401.1 L283.0 400.7 L283.5 401.0 L284.0 399.9 L284.5 401.9 L285.0 400.6 L285.5 403.9 L286.0 400.7 L286.5 400.1 L287.0 400.6 L287.5 400.1 L288.0 400.8 L288.5 401.1 L289.0 399.9 L289.5 400.1 L290.0 400.3 L290.5 401.9 L291.0 403.5 L291.5 405.4 L292.0 407.0 L292.5 408.9 L293.0 411.0 L293.5 412.3 L294.0 411.6 L294.5 412.3 L295.0 410.8 L295.5 411.4 L296.0 412.3 L296.5 411.0 L297.0 410.6 L297.5 411.1 L298.0 411.7 L298.5 410.7 L299.0 410.5 L299.5 410.3 L300.0 407.3 L300.5 406.4 L301.0 403.8 L301.5 399.9 L302.0 399.3 L302.5 397.1 L303.0 394.9 L303.5 392.2 L304.0 390.1 L304.5 386.6 L305.0 383.4 L305.5 381.3 L306.0 378.6 L306.5 373.5 L307.0 371.0 L307.5 365.1 L308.0 362.3 L308.5 359.1 L309.0 359.8 L309.5 357.6 L310.0 356.9 L310.5 354.4 L311.0 356.7 L311.5 356.6 L312.0 356.7 L312.5 358.2 L313.0 358.6 L313.5 361.3 L314.0 363.9 L314.5 364.1 L315.0 366.9 L315.5 367.7 L316.0 368.8 L316.5 373.1 L317.0 376.9 L317.5 379.2 L318.0 380.9 L318.5 386.8 L319.0 391.1 L319.5 394.7 L320.0 397.9 L320.5 402.2 L321.0 404.0 L321.5 406.1 L322.0 409.5 L322.5 409.8 L323.0 412.6 L323.5 415.4 L324.0 415.8 L324.5 419.0 L325.0 422.1 L325.5 423.0 L326.0 426.8 L326.5 429.5 L327.0 431.9 L327.5 433.0 L328.0 436.5 L328.5 435.2 L329.0 437.2 L329.5 438.5 L330.0 440.2 L330.5 436.3 L331.0 436.9 L331.5 438.3 L332.0 440.5 L332.5 443.9 L333.0 443.7 L333.5 445.2 L334.0 448.5 L334.5 444.4 L335.0 444.2 L335.5 447.0 L336.0 444.3 L336.5 441.8 L337.0 441.8 L337.5 444.1 L338.0 439.2 L338.5 439.3 L339.0 442.0 L339.5 443.0 L340.0 443.5 L340.5 438.0 L341.0 439.9 L341.5 432.8 L342.0 437.0 L342.5 444.1 L343.0 441.9 L343.5 440.4 L344.0 437.4 L344.5 436.5 L345.0 440.5 L345.5 437.6 L346.0 435.8 L346.5 439.3 L347.0 439.9 L347.5 437.5 L348.0 438.1 L348.5 443.1 L349.0 437.5 L349.5 441.1 L350.0 438.0 L350.5 437.8 L351.0 437.5 L351.5 438.8 L352.0 438.6 L352.5 439.4 L353.0 436.2 L353.5 438.7 L354.0 437.4 L354.5 437.3 L355.0 440.1 L355.5 439.3 L356.0 435.2 L356.5 437.9 L357.0 433.9 L357.5 435.6 L358.0 440.9 L358.5 441.2 L359.0 439.2 L359.5 441.0 L360.0 442.5 L360.5 443.0 L361.0 442.6 L361.5 438.4 L362.0 440.1 L362.5 440.4 L363.0 435.8 L363.5 439.1 L364.0 441.4 L364.5 440.9 L365.0 440.9 L365.5 439.1 L366.0 439.4 L366.5 439.6 L367.0 438.3 L367.5 441.5 L368.0 441.3 L368.5 437.1 L369.0 441.0 L369.5 440.1 L370.0 442.3 L370.5 440.2 L371.0 443.6 L371.5 440.2 L372.0 442.9 L372.5 441.1 L373.0 440.8 L373.5 438.3 L374.0 437.2 L374.5 441.0 L375.0 436.6 L375.5 436.7 L376.0 439.9 L376.5 439.2 L377.0 440.2 L377.5 437.1 L378.0 435.9 L378.5 438.3 L379.0 441.9 L379.5 439.7 L380.0 440.4 L380.5 441.0 L381.0 440.7 L381.5 441.1 L382.0 440.7 L382.5 440.6 L383.0 439.8 L383.5 437.6 L384.0 439.4 L384.5 438.3 L385.0 438.1 L385.5 438.4 L386.0 440.8 L386.5 439.6 L387.0 442.8 L387.5 437.7 L388.0 439.8 L388.5 435.7 L389.0 438.5 L389.5 437.9 L390.0 438.3 L390.5 437.9 L391.0 440.5 L391.5 442.3 L392.0 438.6 L392.5 441.6 L393.0 441.9 L393.5 441.7 L394.0 440.2 L394.5 436.8 L395.0 439.9 L395.5 437.1 L396.0 440.4 L396.5 440.2 L397.0 439.1 L397.5 438.3 L398.0 439.4 L398.5 442.1 L399.0 440.2 L399.5 438.5 L400.0 441.5 L400.5 443.9 L401.0 445.4 L401.5 437.6 L402.0 441.8 L402.5 442.7 L403.0 440.3 L403.5 439.0 L404.0 445.7 L404.5 442.8 L405.0 440.9 L405.5 441.5 L406.0 444.5 L406.5 446.5 L407.0 443.5 L407.5 439.9 L408.0 443.8 L408.5 437.8 L409.0 443.3 L409.5 442.3 L410.0 443.1 L410.5 441.4 L411.0 441.5 L411.5 440.8 L412.0 441.2 L412.5 442.6 L413.0 446.9 L413.5 442.5 L414.0 443.9 L414.5 442.9 L415.0 445.0 L415.5 444.1 L416.0 446.6 L416.5 446.7 L417.0 444.6 L417.5 443.8 L418.0 441.5 L418.5 438.3 L419.0 440.8 L419.5 440.8 L420.0 438.8 L420.5 441.8 L421.0 443.7 L421.5 440.3 L422.0 443.8 L422.5 443.1 L423.0 441.4 L423.5 442.7 L424.0 444.1 L424.5 442.4 L425.0 442.8 L425.5 445.8 L426.0 444.6 L426.5 444.1 L427.0 441.6 L427.5 443.8 L428.0 445.1 L428.5 440.9 L429.0 440.0 L429.5 441.9 L430.0 443.5 L430.5 441.7 L431.0 440.3 L431.5 445.4 L432.0 440.1 L432.5 439.0 L433.0 434.6 L433.5 442.8 L434.0 438.9 L434.5 445.6 L435.0 445.3 L435.5 445.4 L436.0 445.3 L436.5 447.2 L437.0 443.8 L437.5 444.2 L438.0 441.1 L438.5 441.0 L439.0 444.3 L439.5 443.9 L440.0 440.5 L440.5 441.1 L441.0 443.4 L441.5 442.8 L442.0 443.8 L442.5 441.2 L443.0 439.1 L443.5 441.9 L444.0 438.8 L444.5 440.9 L445.0 438.1 L445.5 443.3 L446.0 441.3 L446.5 441.8 L447.0 442.6 L447.5 439.3 L448.0 444.4 L448.5 441.6 L449.0 440.0 L449.5 443.0 L450.0 445.7 L450.5 441.5 L451.0 446.6 L451.5 440.2 L452.0 446.4 L452.5 444.2 L453.0 445.5 L453.5 448.2 L454.0 444.3 L454.5 439.9 L455.0 445.7 L455.5 441.3 L456.0 442.9 L456.5 443.2 L457.0 446.2 L457.5 446.1 L458.0 450.1 L458.5 446.6 L459.0 446.4 L459.5 444.1 L460.0 446.1 L460.5 441.4 L461.0 440.3 L461.5 444.5 L462.0 443.7 L462.5 442.5 L463.0 447.1 L463.5 440.3 L464.0 444.5 L464.5 444.8 L465.0 439.2 L465.5 443.7 L466.0 444.9 L466.5 442.5 L467.0 441.9 L467.5 441.3 L468.0 438.9 L468.5 438.5 L469.0 443.5 L469.5 443.2 L470.0 443.7 L470.5 444.4 L471.0 441.4 L471.5 441.9 L472.0 444.9 L472.5 443.6 L473.0 445.0 L473.5 446.0 L474.0 447.1 L474.5 441.5 L475.0 442.1 L475.5 439.7 L476.0 440.7 L476.5 442.4 L477.0 439.5 L477.5 444.7 L478.0 439.0 L478.5 436.9 L479.0 439.4 L479.5 446.1 L480.0 440.7 L480.5 441.9 L481.0 439.9 L481.5 439.4 L482.0 444.1 L482.5 439.3 L483.0 438.1 L483.5 440.9 L484.0 441.7 L484.5 443.4 L485.0 442.2 L485.5 443.5 L486.0 439.6 L486.5 441.1 L487.0 441.5 L487.5 442.9 L488.0 438.6 L488.5 440.2 L489.0 435.1 L489.5 438.2 L490.0 436.5 L490.5 437.3 L491.0 442.3 L491.5 441.4 L492.0 436.4 L492.5 443.3 L493.0 442.3 L493.5 441.1 L494.0 441.6 L494.5 441.7 L495.0 442.0 L495.5 442.9 L496.0 440.4 L496.5 443.8 L497.0 441.8 L497.5 442.1 L498.0 444.3 L498.5 446.5 L499.0 447.9 L499.5 447.2 L500.0 444.3 L500.5 444.1 L501.0 442.9 L501.5 445.7 L502.0 447.5 L502.5 445.3 L503.0 444.3 L503.5 442.3 L504.0 441.5 L504.5 440.6 L505.0 443.9 L505.5 440.4 L506.0 442.4 L506.5 445.6 L507.0 444.2 L507.5 445.7 L508.0 442.9 L508.5 444.6 L509.0 444.1 L509.5 440.3 L510.0 443.3 L510.5 444.8 L511.0 440.8 L511.5 442.7 L512.0 445.0 L512.5 446.7 L513.0 444.0 L513.5 447.3 L514.0 440.8 L514.5 445.2 L515.0 439.3 L515.5 441.0 L516.0 439.3 L516.5 443.2 L517.0 442.6 L517.5 438.1 L518.0 436.8" stroke="#c2c200" stroke-width="3"/>
</g>
<g style="font-family:'Liberation Sans',sans-serif;font-weight:bold;font-size:20px" fill="#000">
<text x="61" y="449.8" text-anchor="end">0</text><text x="61" y="364.1" text-anchor="end">1</text><text x="61" y="278.4" text-anchor="end">2</text><text x="61" y="192.7" text-anchor="end">3</text><text x="61" y="107.0" text-anchor="end">4</text><text x="61" y="21.3" text-anchor="end">5</text>
<text x="70.8" y="487" text-anchor="middle">500</text><text x="183.0" y="487" text-anchor="middle">1000</text><text x="293.3" y="487" text-anchor="middle">1500</text><text x="405.0" y="487" text-anchor="middle">2000</text><text x="516.2" y="487" text-anchor="middle">2500</text>
</g>
<g stroke-width="3" stroke-linecap="round">
<line x1="139" y1="35.7" x2="182" y2="35.7" stroke="#8a0000"/>
<line x1="139" y1="59.9" x2="182" y2="59.9" stroke="#ff7a00"/>
<line x1="139" y1="84" x2="182" y2="84" stroke="#c2c200"/>
</g>
<g style="font-family:'Liberation Sans',sans-serif;font-weight:bold;font-size:19px;letter-spacing:-0.14px" fill="#000">
<text transform="translate(192,41.9) scale(1,1.07)">As grown CN<tspan dx="1.8">T</tspan> (not patterned)</text>
<text transform="translate(192,65.9) scale(1,1.07)">As grown CN<tspan dx="1.8">T</tspan> (patterned)-1</text>
<text transform="translate(192,89.9) scale(1,1.07)">As grown CN<tspan dx="1.8">T</tspan> (patterned)-2</text>
</g>
<g style="font-family:'Liberation Serif',serif;font-weight:bold;font-size:25px" fill="#000">
<text x="362" y="131">Not patterned</text>
<text x="362" y="161">I<tspan font-size="16" dy="5">D</tspan><tspan dy="-5">/I</tspan><tspan font-size="16" dy="5">G</tspan></text><text transform="translate(416,163) scale(1.15,1.1)">=</text><text x="438.2" y="161">0.9</text>
<text x="362" y="248">Patterned-1</text>
<text x="362" y="278">I<tspan font-size="16" dy="5">D</tspan><tspan dy="-5">/I</tspan><tspan font-size="16" dy="5">G</tspan></text><text transform="translate(416,280) scale(1.15,1.1)">=</text><text x="438.2" y="278">1.8</text>
<text x="362" y="382">Patterned-2</text>
<text x="362" y="412">I<tspan font-size="16" dy="5">D</tspan><tspan dy="-5">/I</tspan><tspan font-size="16" dy="5">G</tspan></text><text transform="translate(416,414) scale(1.15,1.1)">=</text><text x="438.2" y="412">0.75</text>
</g>
<text transform="translate(30,411) rotate(-90)" style="font-family:'Liberation Sans',sans-serif;font-weight:bold;font-size:31px;letter-spacing:0.25px" fill="#000">RAMAN intensity (A.U.)</text>
<g style="font-family:'Liberation Sans',sans-serif;font-weight:bold" fill="#000">
<text x="147" y="537" style="font-size:31px;letter-spacing:0.37px">Wavenumber (cm</text>
<text x="411" y="520.5" style="font-size:19px;letter-spacing:1.5px">-1</text>
<text x="429.5" y="537" style="font-size:31px">)</text>
</g>
</svg>
</body></html>
